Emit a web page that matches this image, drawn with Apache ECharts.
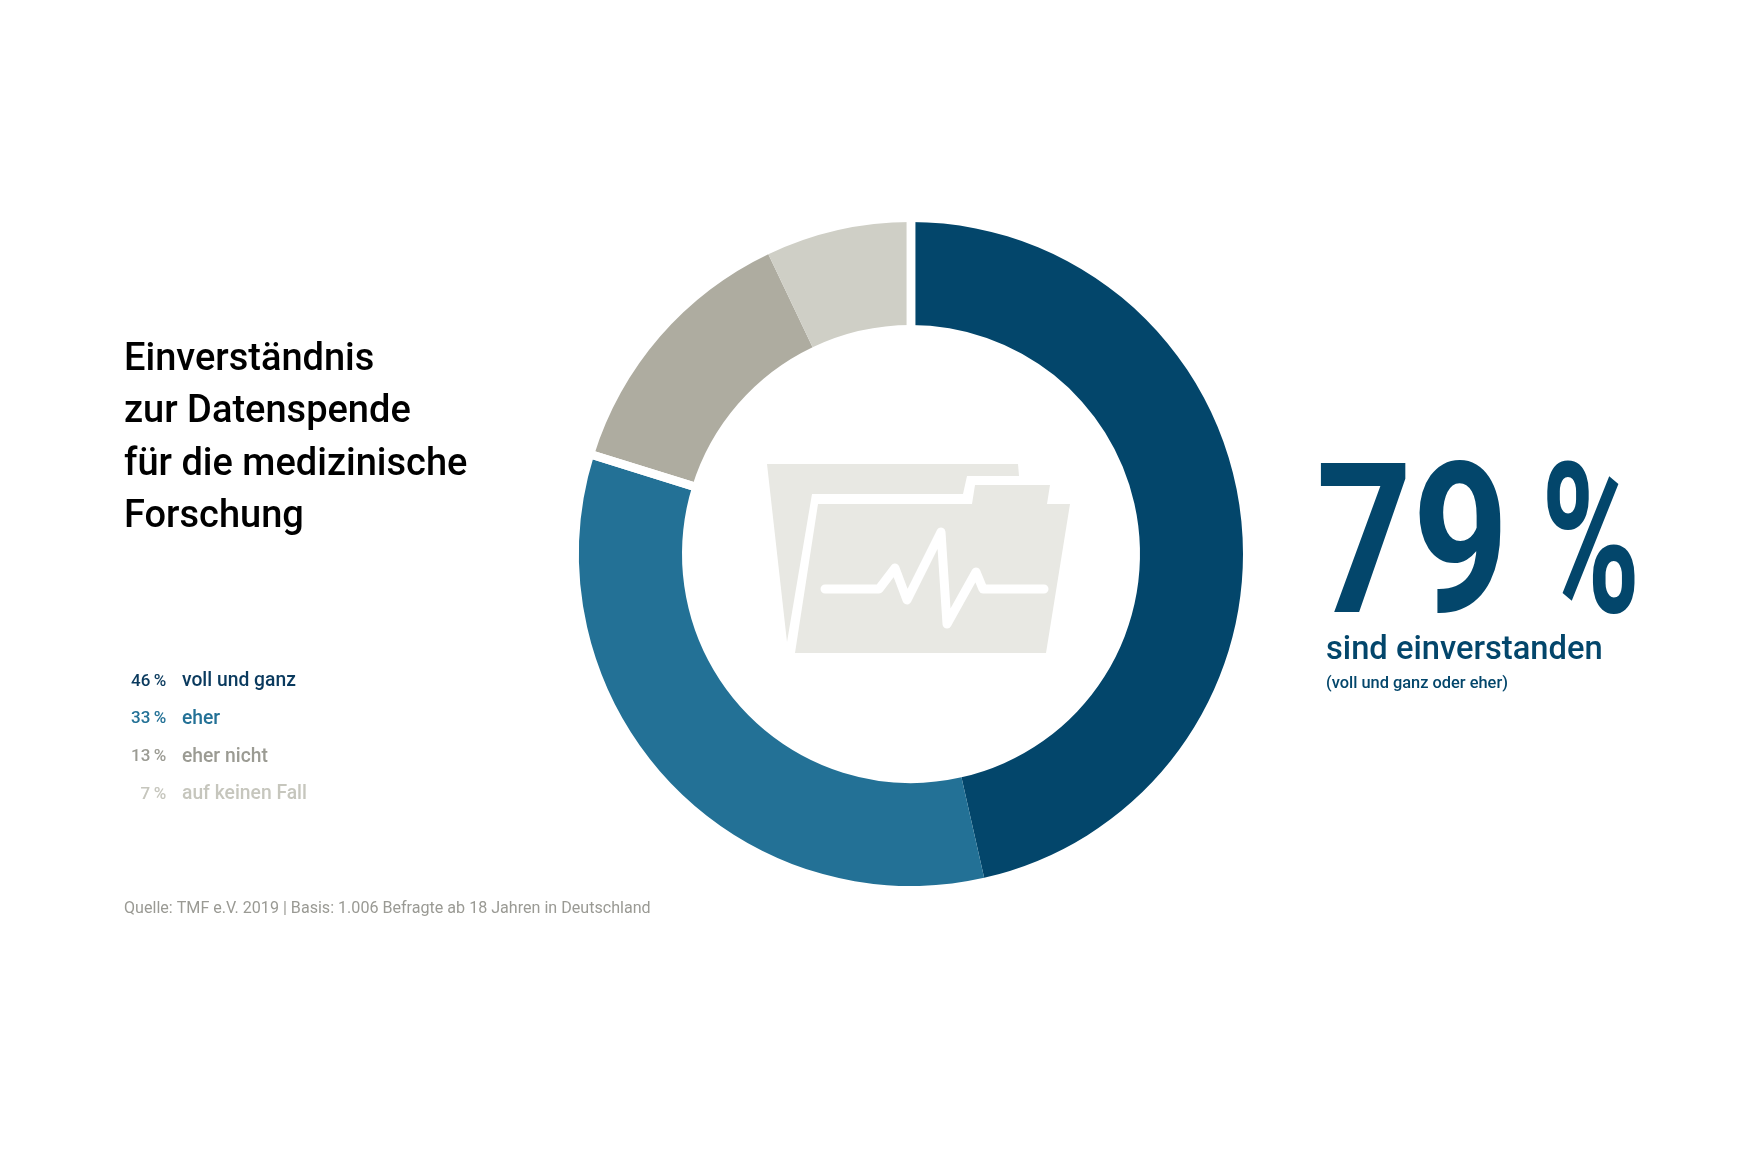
<!DOCTYPE html>
<html>
<head>
<meta charset="utf-8">
<title>Einverständnis zur Datenspende</title>
<script src="https://cdn.jsdelivr.net/npm/echarts@6/dist/echarts.min.js"></script>
<style>
    html, body { margin: 0; padding: 0; background: #fff; }
    #main { width: 1760px; height: 1173px; }
</style>
</head>
<body>
<div id="main"></div>
<script>
    // data
    var categories = ['voll und ganz', 'eher', 'eher nicht', 'auf keinen Fall'];
    var values = [46, 33, 13, 7];
    var sliceColors = ['#03466b', '#237196', '#aeaca0', '#cfcfc6'];
    var legendColors = ['#0a3a5e', '#237196', '#9b9b93', '#c6c6bd'];
    var titleLines = ['Einverständnis', 'zur Datenspende', 'für die medizinische', 'Forschung'];
    var sourceText = 'Quelle: TMF e.V. 2019 | Basis: 1.006 Befragte ab 18 Jahren in Deutschland';
    var agreeLabel = 'sind einverstanden';
    var agreeNote = '(voll und ganz oder eher)';

    var font = 'Roboto';
    var darkBlue = '#03466b';
    var iconGrey = '#e8e8e3';

    // the two white gaps: top and between "eher" and "eher nicht"
    var agree = values[0] + values[1];
    var disagree = values[2] + values[3];

    var pieData = categories.map(function (name, i) {
        return { name: name, value: values[i], itemStyle: { color: sliceColors[i] } };
    });

    var legendRich = {};
    categories.forEach(function (name, i) {
        legendRich['p' + i] = { width: 34, color: legendColors[i], fontFamily: font, fontSize: 17, fontWeight: 500 };
        legendRich['n' + i] = { color: legendColors[i], fontFamily: font, fontSize: 19.3, fontWeight: 500, padding: [0, 0, 0, 17] };
    });

    var myChart = echarts.init(document.getElementById('main'));
    var option = {
        animation: false,
        backgroundColor: '#fff',
        title: {
            text: titleLines.join('\n'),
            left: 124,
            top: 334,
            padding: 0,
            textStyle: { fontFamily: font, fontSize: 38, fontWeight: 500, color: '#000', lineHeight: 52.5 }
        },
        legend: {
            orient: 'vertical',
            left: 126,
            top: 671.5,
            padding: 0,
            icon: 'none',
            itemWidth: 0,
            itemHeight: 20,
            itemGap: 18.1,
            selectedMode: false,
            data: categories,
            formatter: function (name) {
                var i = categories.indexOf(name);
                // figure space keeps the single digit value right aligned
                var num = values[i] < 10 ? '\u2007' + values[i] : values[i];
                return '{p' + i + '|' + num + '\u2009%}{n' + i + '|' + name + '}';
            },
            textStyle: { rich: legendRich }
        },
        series: [
            {
                type: 'pie',
                radius: [229, 332],
                center: [911, 554],
                startAngle: 90,
                label: { show: false },
                labelLine: { show: false },
                emphasis: { disabled: true },
                silent: true,
                data: pieData
            },
            {
                // transparent slices, only their white outline shows as the gaps
                type: 'pie',
                radius: [221, 340],
                center: [911, 554],
                startAngle: 90,
                label: { show: false },
                labelLine: { show: false },
                emphasis: { disabled: true },
                silent: true,
                itemStyle: { color: 'transparent', borderColor: '#fff', borderWidth: 8.5 },
                data: [{ name: 'einverstanden', value: agree }, { name: 'nicht einverstanden', value: disagree }]
            }
        ],
        graphic: [
            // folder icon
            { type: 'polygon', shape: { points: [[767, 464], [1018, 464], [1019, 476], [967, 476], [963, 494], [812, 494], [787, 642]] }, style: { fill: iconGrey } },
            { type: 'polygon', shape: { points: [[818, 504], [972, 504], [975, 485], [1050, 485], [1047, 504], [1070, 504], [1046, 653], [795, 653]] }, style: { fill: iconGrey } },
            { type: 'polyline', shape: { points: [[825, 589], [879, 589], [895, 568], [907, 600], [941, 532], [947, 624], [976, 572], [983, 589], [1044, 589]] }, style: { stroke: '#fff', lineWidth: 9, lineCap: 'round', lineJoin: 'round', fill: null } },
            // big number
            { type: 'text', x: 1316, y: 454, scaleX: 0.80, style: { text: String(agree), font: '700 210px Roboto', fill: darkBlue } },
            { type: 'text', x: 1541, y: 454, scaleX: 0.64, style: { text: '%', font: '700 210px Roboto', fill: darkBlue } },
            { type: 'text', x: 1326, y: 634, style: { text: agreeLabel, font: '500 32.7px Roboto', fill: darkBlue } },
            { type: 'text', x: 1326, y: 676, style: { text: agreeNote, font: '500 16.4px Roboto', fill: darkBlue } },
            { type: 'text', x: 124, y: 901, style: { text: sourceText, font: '400 16.1px Roboto', fill: '#9a9a94' } }
        ]
    };
    myChart.setOption(option);
</script>
</body>
</html>
